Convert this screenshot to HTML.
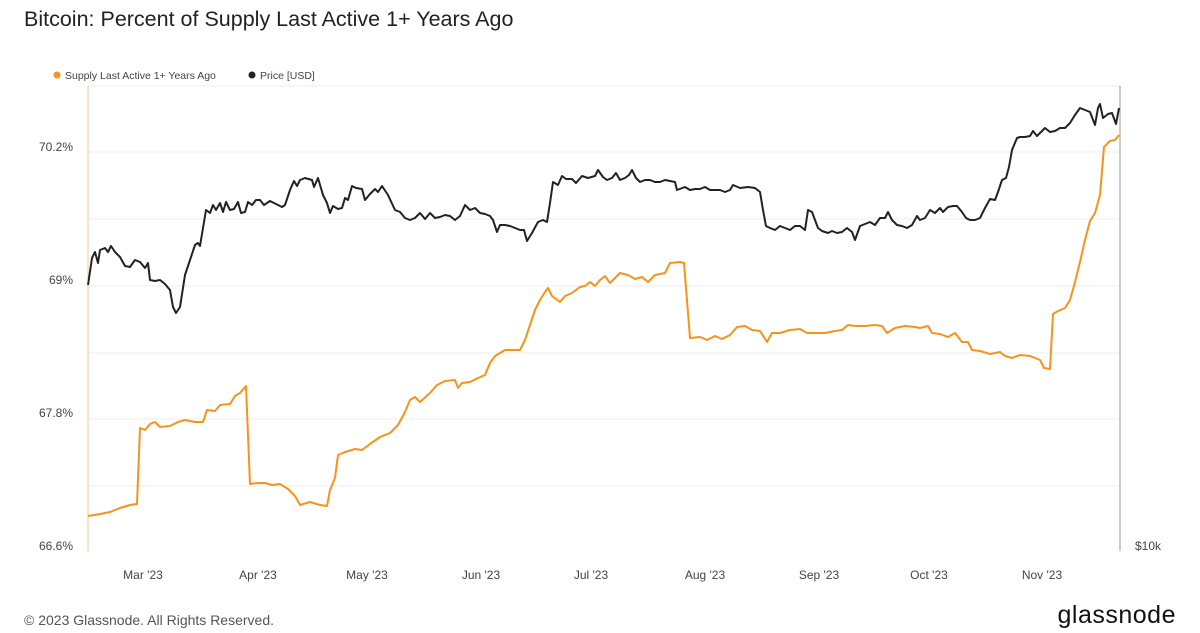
<!DOCTYPE html>
<html><head><meta charset="utf-8"><style>
body{margin:0;width:1200px;height:628px;background:#fff;overflow:hidden;font-family:"Liberation Sans",sans-serif}
</style></head><body>
<svg width="1200" height="628" xmlns="http://www.w3.org/2000/svg" font-family="Liberation Sans, sans-serif">
<text x="24" y="26" font-size="21.5" fill="#222">Bitcoin: Percent of Supply Last Active 1+ Years Ago</text>
<circle cx="57" cy="75" r="3.5" fill="#f7931a"/>
<text x="65" y="79" font-size="10.5" fill="#444">Supply Last Active 1+ Years Ago</text>
<circle cx="252" cy="75" r="3.5" fill="#222"/>
<text x="260" y="79" font-size="10.5" fill="#444">Price [USD]</text>
<g stroke="#eee" stroke-width="1">
<line x1="88" y1="86" x2="1120" y2="86"/>
<line x1="88" y1="152" x2="1120" y2="152"/>
<line x1="88" y1="219" x2="1120" y2="219"/>
<line x1="88" y1="286" x2="1120" y2="286"/>
<line x1="88" y1="353" x2="1120" y2="353"/>
<line x1="88" y1="419" x2="1120" y2="419"/>
<line x1="88" y1="486" x2="1120" y2="486"/>
</g>
<line x1="88" y1="86" x2="88" y2="551" stroke="#f7c98a" stroke-width="1"/>
<line x1="1120" y1="86" x2="1120" y2="551" stroke="#999" stroke-width="1"/>
<g font-size="12" fill="#444" text-anchor="end">
<text x="73" y="151">70.2%</text>
<text x="73" y="284">69%</text>
<text x="73" y="417">67.8%</text>
<text x="73" y="550">66.6%</text>
</g>
<text x="1135" y="550" font-size="12" fill="#444">$10k</text>
<g font-size="12" fill="#444" text-anchor="middle">
<text x="143" y="579">Mar '23</text>
<text x="258" y="579">Apr '23</text>
<text x="367" y="579">May '23</text>
<text x="481" y="579">Jun '23</text>
<text x="591" y="579">Jul '23</text>
<text x="705" y="579">Aug '23</text>
<text x="819" y="579">Sep '23</text>
<text x="929" y="579">Oct '23</text>
<text x="1042" y="579">Nov '23</text>
</g>
<polyline fill="none" stroke="#f7931a" stroke-width="2" stroke-linejoin="round" points="88,516 100,514 110,512 120,508 130,505 137,504 140,428 145,430 150,424 155,422 160,427 170,426 178,422 185,420 195,422 203,422 207,410 215,411 220,405 230,404 235,396 240,393 246,386 250,484 258,483 265,483 272,485 280,484 288,489 295,496 300,505 310,502 320,505 327,506 330,490 335,478 338,455 345,452 355,449 362,450 370,444 380,437 390,433 398,425 405,412 410,400 415,397 420,402 430,393 437,385 445,381 455,380 458,388 462,383 470,382 478,378 485,375 490,363 495,356 500,353 505,350 512,350 520,350 525,340 530,325 535,310 540,300 545,292 548,288 552,296 560,302 565,296 572,293 580,287 585,286 590,282 595,286 600,280 605,276 610,283 620,273 628,275 635,279 642,277 648,282 655,275 665,273 670,263 680,262 684,263 690,338 700,337 707,340 715,336 722,339 730,335 737,327 745,326 752,330 760,331 767,342 772,333 780,333 790,330 800,329 807,333 815,333 825,333 835,331 842,330 848,325 855,326 865,326 875,325 882,326 887,333 895,328 905,326 915,327 920,328 928,326 932,333 940,334 948,337 955,333 962,342 968,342 972,350 980,351 990,354 1000,352 1005,356 1012,358 1020,355 1030,356 1035,358 1040,360 1044,368 1050,369 1053,314 1058,311 1065,308 1070,300 1075,282 1080,262 1085,240 1090,221 1095,213 1100,195 1104,147 1110,141 1115,140 1119,135"/>
<polyline fill="none" stroke="#222" stroke-width="2" stroke-linejoin="round" points="88,285 92,258 95,252 98,263 100,250 105,248 108,252 111,246 115,252 120,257 125,266 130,267 135,260 140,262 145,268 148,263 150,280 155,281 160,280 165,284 170,290 173,307 176,313 180,307 185,275 190,260 195,245 198,243 200,246 203,228 206,210 210,213 213,205 216,210 220,203 223,212 226,202 230,210 234,209 238,202 241,213 245,212 248,202 252,205 256,200 260,200 264,205 270,201 276,204 282,207 285,205 290,190 294,181 297,186 300,180 305,178 312,180 314,187 318,178 323,195 327,203 330,213 333,206 338,209 342,208 345,198 348,200 352,186 356,188 362,189 365,200 370,194 375,189 378,192 382,186 388,195 395,210 400,212 405,218 410,220 415,218 420,213 425,219 430,213 435,218 440,217 445,215 450,216 455,220 460,216 465,205 470,210 475,208 480,213 485,214 490,216 493,220 497,232 500,225 505,225 510,226 515,228 520,230 524,230 527,241 532,233 538,222 543,220 547,222 550,203 553,182 558,185 562,176 566,179 572,179 576,183 582,176 588,178 595,176 598,170 603,177 607,180 612,178 616,173 620,180 625,178 629,175 632,170 636,178 640,182 645,180 650,180 655,182 660,182 665,180 670,181 675,182 677,190 685,187 690,190 695,189 700,189 705,187 710,190 720,190 725,192 730,190 733,185 740,188 748,187 755,188 760,192 763,210 766,226 770,228 775,230 780,226 785,228 790,230 795,226 800,226 805,230 808,210 812,212 815,220 818,228 822,231 828,233 832,231 837,233 842,232 847,228 852,232 855,240 860,226 865,224 870,222 875,225 880,218 885,218 888,212 892,220 897,225 902,226 907,228 912,225 917,216 920,220 925,218 930,210 935,213 940,208 943,212 948,207 953,206 957,206 962,212 966,218 970,220 975,220 980,218 985,208 990,199 995,200 998,192 1002,180 1006,178 1009,167 1012,150 1017,138 1020,137 1025,137 1030,136 1033,131 1037,136 1040,133 1045,128 1050,132 1055,131 1060,128 1065,128 1070,123 1075,115 1080,108 1085,110 1090,112 1095,125 1098,108 1100,104 1103,118 1108,114 1112,113 1116,124 1119,108"/>
<text x="24" y="625" font-size="14" fill="#555">© 2023 Glassnode. All Rights Reserved.</text>
<text x="1176" y="623" font-size="25" fill="#111" text-anchor="end" letter-spacing="0.5">glassnode</text>
</svg>
</body></html>
